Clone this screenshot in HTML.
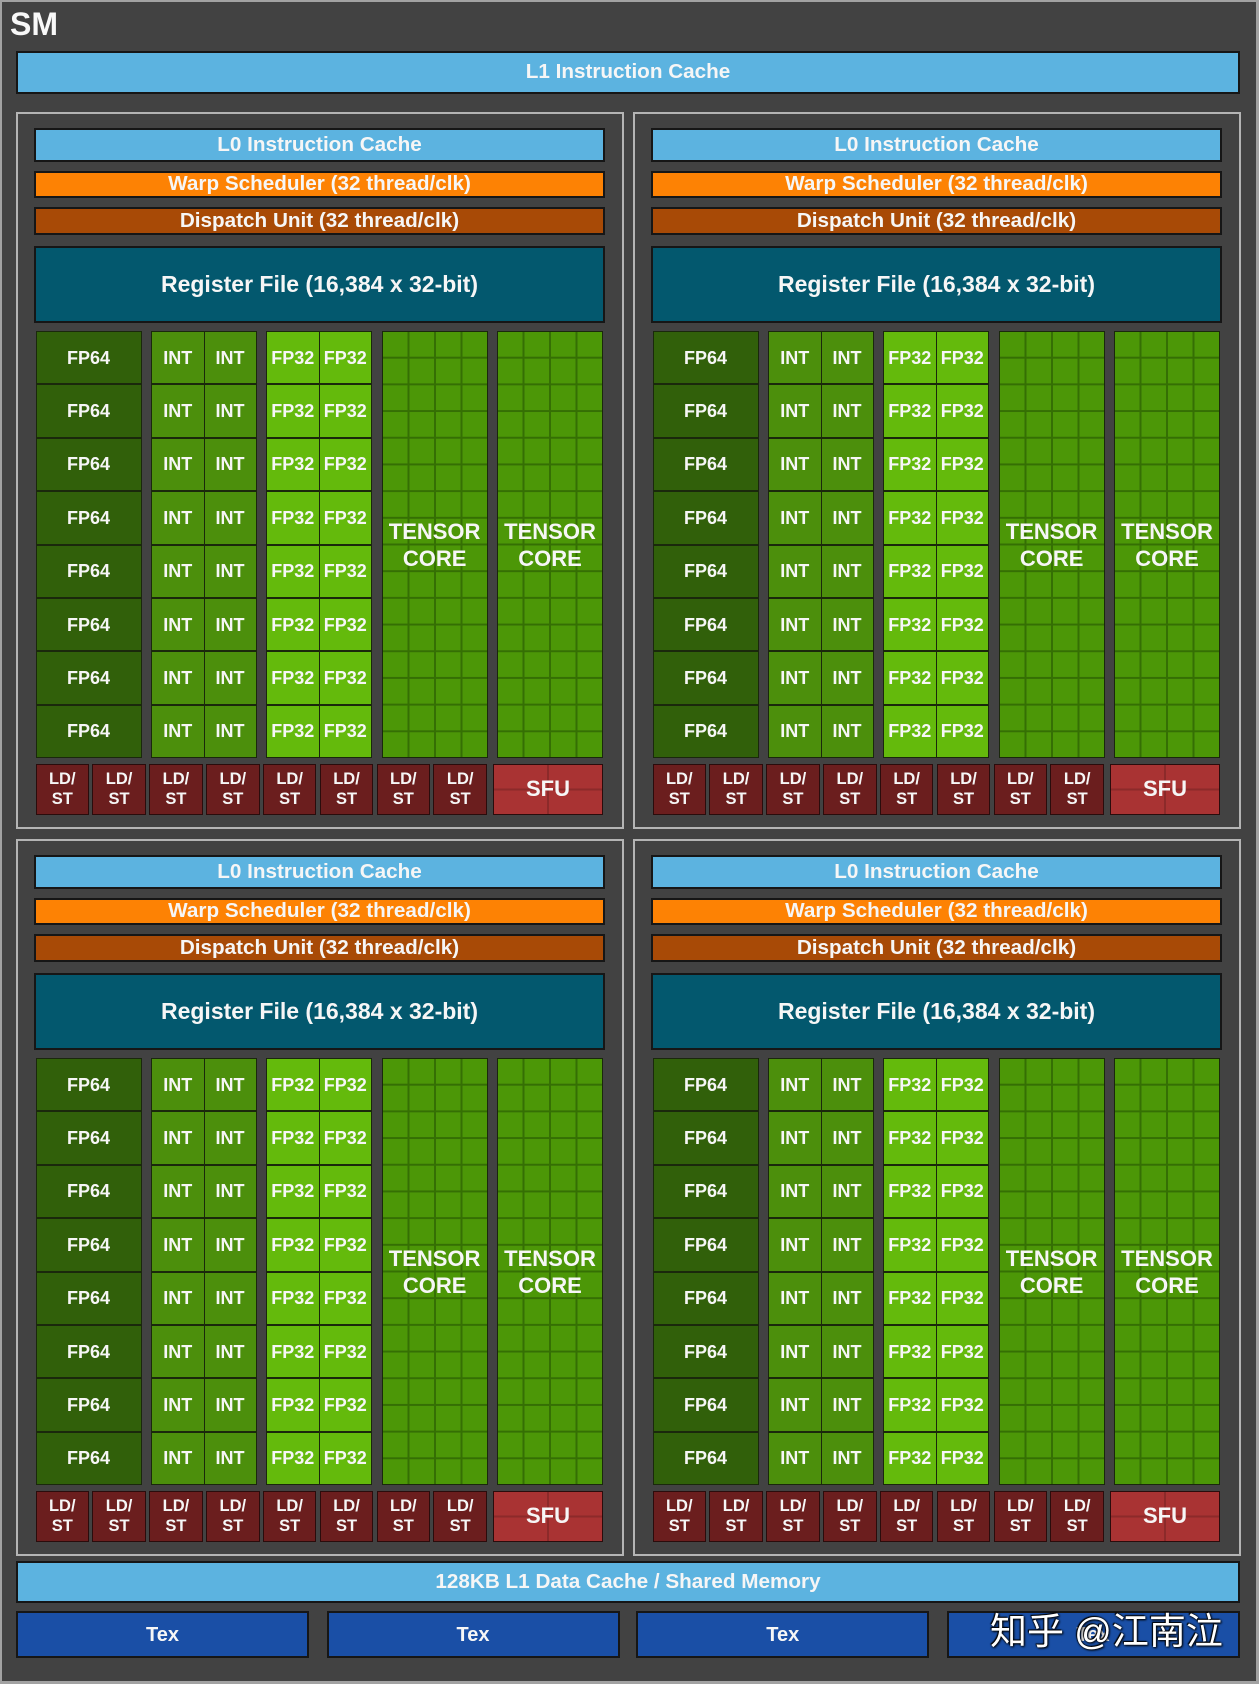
<!DOCTYPE html>
<html><head><meta charset="utf-8"><style>
html,body{margin:0;padding:0}
body{width:1259px;height:1684px;background:#424242;position:relative;overflow:hidden;font-family:"Liberation Sans",sans-serif}
#sm{position:absolute;left:0;top:0;width:1259px;height:1684px;box-sizing:border-box;border-style:solid;border-color:#a2a2a2;border-width:2px 3px 3px 2px}
.smt{position:absolute;left:10px;top:8px;font:bold 32px/32px "Liberation Sans",sans-serif;color:#f8f8f8}
.big{position:absolute;left:16px;width:1224px;box-sizing:border-box;border:2px solid #161616;background:#5cb3e0;display:flex;align-items:center;justify-content:center;color:#f6f6f6;font:bold 20.7px/1 "Liberation Sans",sans-serif}
.tex{position:absolute;top:1611px;height:47px;width:293px;box-sizing:border-box;border:2px solid #161616;background:#1a4fa6;display:flex;align-items:center;justify-content:center;color:#f6f6f6;font:bold 20px/1 "Liberation Sans",sans-serif}
.q{position:absolute;width:608px;height:717px}
.qb{position:absolute;left:0;top:0;width:608px;height:717px;box-sizing:border-box;border:2px solid #b4b4b4}
.bar{position:absolute;left:18px;width:571px;box-sizing:border-box;border:2px solid #161616;display:flex;align-items:center;justify-content:center;color:#f6f6f6;font:bold 20.7px/1 "Liberation Sans",sans-serif;white-space:nowrap}
.l0{top:16px;height:34px;background:#5cb3e0}
.ws{top:59px;height:27px;background:#fd8204}
.du{top:95px;height:28px;background:#a84a06}
.rf{top:134px;height:77px;background:#03586e;font-size:23px}
.c{position:absolute;height:53.4px;box-sizing:border-box;border:1px solid #1a280c;display:flex;align-items:center;justify-content:center;color:#f6f6f6;font:bold 18px/1 "Liberation Sans",sans-serif;white-space:nowrap}
.f64{left:19.5px;width:106px;background:#31600a}
.i1{left:135px;width:53.5px;background:#4c8f0c}
.i2{left:187.5px;width:53px;background:#4c8f0c}
.p1{left:250px;width:53.5px;background:#64ba0c}
.p2{left:302.5px;width:53.5px;background:#64ba0c}
.r1{top:219px}.r2{top:272.4px}.r3{top:325.8px}.r4{top:379.2px}.r5{top:432.6px}.r6{top:486px}.r7{top:539.4px}.r8{top:592.8px}
.t{position:absolute;top:219px;width:106px;height:427.2px;box-sizing:border-box;border:1px solid #1a280c;background-color:#4c9707;
background-image:linear-gradient(to right,#356f04 2px,transparent 2px),linear-gradient(to bottom,#356f04 2px,transparent 2px);
background-size:26.5px 100%,100% 26.7px;background-position:-2px 0,0 -2px;
display:flex;align-items:center;justify-content:center;text-align:center;color:#f6f6f6;font:bold 22px/27px "Liberation Sans",sans-serif}
.t1{left:365.6px}.t2{left:481px}
.ls{position:absolute;top:652px;width:53.5px;height:50.5px;box-sizing:border-box;border:1px solid #2a0c0c;background:#6b1e1e;display:flex;align-items:center;justify-content:center;text-align:center;color:#f6f6f6;font:bold 16.5px/20px "Liberation Sans",sans-serif}
.a1{left:19.5px}.a2{left:76.35px}.a3{left:133.2px}.a4{left:190.05px}.a5{left:246.9px}.a6{left:303.75px}.a7{left:360.6px}.a8{left:417.45px}
.sfu{left:476.7px;width:110.6px;background-color:#a93333;font-size:22px;
background-image:linear-gradient(to right,transparent calc(50% - 1px),#8c2a2a calc(50% - 1px),#8c2a2a calc(50% + 1px),transparent calc(50% + 1px)),linear-gradient(to bottom,transparent calc(50% - 1px),#8c2a2a calc(50% - 1px),#8c2a2a calc(50% + 1px),transparent calc(50% + 1px))}
.wm{position:absolute;left:990px;top:1613px;height:38px;font:37px/37px "Liberation Sans","Noto Sans CJK SC",sans-serif;color:#ffffff;white-space:pre;text-shadow:0 0 2px #000,1px 1px 2px #000,-1px -1px 1px #000}
</style></head><body>
<div id="sm"></div>
<div class="smt">SM</div>
<div class="big" style="top:51px;height:43px">L1 Instruction Cache</div>

<div class="q" style="left:16px;top:112px">
<div class="qb"></div>
<div class="bar l0">L0 Instruction Cache</div>
<div class="bar ws">Warp Scheduler (32 thread/clk)</div>
<div class="bar du">Dispatch Unit (32 thread/clk)</div>
<div class="bar rf">Register File (16,384 x 32-bit)</div>
<div class="c f64 r1">FP64</div><div class="c i1 r1">INT</div><div class="c i2 r1">INT</div><div class="c p1 r1">FP32</div><div class="c p2 r1">FP32</div>
<div class="c f64 r2">FP64</div><div class="c i1 r2">INT</div><div class="c i2 r2">INT</div><div class="c p1 r2">FP32</div><div class="c p2 r2">FP32</div>
<div class="c f64 r3">FP64</div><div class="c i1 r3">INT</div><div class="c i2 r3">INT</div><div class="c p1 r3">FP32</div><div class="c p2 r3">FP32</div>
<div class="c f64 r4">FP64</div><div class="c i1 r4">INT</div><div class="c i2 r4">INT</div><div class="c p1 r4">FP32</div><div class="c p2 r4">FP32</div>
<div class="c f64 r5">FP64</div><div class="c i1 r5">INT</div><div class="c i2 r5">INT</div><div class="c p1 r5">FP32</div><div class="c p2 r5">FP32</div>
<div class="c f64 r6">FP64</div><div class="c i1 r6">INT</div><div class="c i2 r6">INT</div><div class="c p1 r6">FP32</div><div class="c p2 r6">FP32</div>
<div class="c f64 r7">FP64</div><div class="c i1 r7">INT</div><div class="c i2 r7">INT</div><div class="c p1 r7">FP32</div><div class="c p2 r7">FP32</div>
<div class="c f64 r8">FP64</div><div class="c i1 r8">INT</div><div class="c i2 r8">INT</div><div class="c p1 r8">FP32</div><div class="c p2 r8">FP32</div>
<div class="t t1">TENSOR<br>CORE</div><div class="t t2">TENSOR<br>CORE</div>
<div class="ls a1">LD/<br>ST</div><div class="ls a2">LD/<br>ST</div><div class="ls a3">LD/<br>ST</div><div class="ls a4">LD/<br>ST</div><div class="ls a5">LD/<br>ST</div><div class="ls a6">LD/<br>ST</div><div class="ls a7">LD/<br>ST</div><div class="ls a8">LD/<br>ST</div>
<div class="ls sfu">SFU</div>
</div>

<div class="q" style="left:633px;top:112px">
<div class="qb"></div>
<div class="bar l0">L0 Instruction Cache</div>
<div class="bar ws">Warp Scheduler (32 thread/clk)</div>
<div class="bar du">Dispatch Unit (32 thread/clk)</div>
<div class="bar rf">Register File (16,384 x 32-bit)</div>
<div class="c f64 r1">FP64</div><div class="c i1 r1">INT</div><div class="c i2 r1">INT</div><div class="c p1 r1">FP32</div><div class="c p2 r1">FP32</div>
<div class="c f64 r2">FP64</div><div class="c i1 r2">INT</div><div class="c i2 r2">INT</div><div class="c p1 r2">FP32</div><div class="c p2 r2">FP32</div>
<div class="c f64 r3">FP64</div><div class="c i1 r3">INT</div><div class="c i2 r3">INT</div><div class="c p1 r3">FP32</div><div class="c p2 r3">FP32</div>
<div class="c f64 r4">FP64</div><div class="c i1 r4">INT</div><div class="c i2 r4">INT</div><div class="c p1 r4">FP32</div><div class="c p2 r4">FP32</div>
<div class="c f64 r5">FP64</div><div class="c i1 r5">INT</div><div class="c i2 r5">INT</div><div class="c p1 r5">FP32</div><div class="c p2 r5">FP32</div>
<div class="c f64 r6">FP64</div><div class="c i1 r6">INT</div><div class="c i2 r6">INT</div><div class="c p1 r6">FP32</div><div class="c p2 r6">FP32</div>
<div class="c f64 r7">FP64</div><div class="c i1 r7">INT</div><div class="c i2 r7">INT</div><div class="c p1 r7">FP32</div><div class="c p2 r7">FP32</div>
<div class="c f64 r8">FP64</div><div class="c i1 r8">INT</div><div class="c i2 r8">INT</div><div class="c p1 r8">FP32</div><div class="c p2 r8">FP32</div>
<div class="t t1">TENSOR<br>CORE</div><div class="t t2">TENSOR<br>CORE</div>
<div class="ls a1">LD/<br>ST</div><div class="ls a2">LD/<br>ST</div><div class="ls a3">LD/<br>ST</div><div class="ls a4">LD/<br>ST</div><div class="ls a5">LD/<br>ST</div><div class="ls a6">LD/<br>ST</div><div class="ls a7">LD/<br>ST</div><div class="ls a8">LD/<br>ST</div>
<div class="ls sfu">SFU</div>
</div>

<div class="q" style="left:16px;top:839px">
<div class="qb"></div>
<div class="bar l0">L0 Instruction Cache</div>
<div class="bar ws">Warp Scheduler (32 thread/clk)</div>
<div class="bar du">Dispatch Unit (32 thread/clk)</div>
<div class="bar rf">Register File (16,384 x 32-bit)</div>
<div class="c f64 r1">FP64</div><div class="c i1 r1">INT</div><div class="c i2 r1">INT</div><div class="c p1 r1">FP32</div><div class="c p2 r1">FP32</div>
<div class="c f64 r2">FP64</div><div class="c i1 r2">INT</div><div class="c i2 r2">INT</div><div class="c p1 r2">FP32</div><div class="c p2 r2">FP32</div>
<div class="c f64 r3">FP64</div><div class="c i1 r3">INT</div><div class="c i2 r3">INT</div><div class="c p1 r3">FP32</div><div class="c p2 r3">FP32</div>
<div class="c f64 r4">FP64</div><div class="c i1 r4">INT</div><div class="c i2 r4">INT</div><div class="c p1 r4">FP32</div><div class="c p2 r4">FP32</div>
<div class="c f64 r5">FP64</div><div class="c i1 r5">INT</div><div class="c i2 r5">INT</div><div class="c p1 r5">FP32</div><div class="c p2 r5">FP32</div>
<div class="c f64 r6">FP64</div><div class="c i1 r6">INT</div><div class="c i2 r6">INT</div><div class="c p1 r6">FP32</div><div class="c p2 r6">FP32</div>
<div class="c f64 r7">FP64</div><div class="c i1 r7">INT</div><div class="c i2 r7">INT</div><div class="c p1 r7">FP32</div><div class="c p2 r7">FP32</div>
<div class="c f64 r8">FP64</div><div class="c i1 r8">INT</div><div class="c i2 r8">INT</div><div class="c p1 r8">FP32</div><div class="c p2 r8">FP32</div>
<div class="t t1">TENSOR<br>CORE</div><div class="t t2">TENSOR<br>CORE</div>
<div class="ls a1">LD/<br>ST</div><div class="ls a2">LD/<br>ST</div><div class="ls a3">LD/<br>ST</div><div class="ls a4">LD/<br>ST</div><div class="ls a5">LD/<br>ST</div><div class="ls a6">LD/<br>ST</div><div class="ls a7">LD/<br>ST</div><div class="ls a8">LD/<br>ST</div>
<div class="ls sfu">SFU</div>
</div>

<div class="q" style="left:633px;top:839px">
<div class="qb"></div>
<div class="bar l0">L0 Instruction Cache</div>
<div class="bar ws">Warp Scheduler (32 thread/clk)</div>
<div class="bar du">Dispatch Unit (32 thread/clk)</div>
<div class="bar rf">Register File (16,384 x 32-bit)</div>
<div class="c f64 r1">FP64</div><div class="c i1 r1">INT</div><div class="c i2 r1">INT</div><div class="c p1 r1">FP32</div><div class="c p2 r1">FP32</div>
<div class="c f64 r2">FP64</div><div class="c i1 r2">INT</div><div class="c i2 r2">INT</div><div class="c p1 r2">FP32</div><div class="c p2 r2">FP32</div>
<div class="c f64 r3">FP64</div><div class="c i1 r3">INT</div><div class="c i2 r3">INT</div><div class="c p1 r3">FP32</div><div class="c p2 r3">FP32</div>
<div class="c f64 r4">FP64</div><div class="c i1 r4">INT</div><div class="c i2 r4">INT</div><div class="c p1 r4">FP32</div><div class="c p2 r4">FP32</div>
<div class="c f64 r5">FP64</div><div class="c i1 r5">INT</div><div class="c i2 r5">INT</div><div class="c p1 r5">FP32</div><div class="c p2 r5">FP32</div>
<div class="c f64 r6">FP64</div><div class="c i1 r6">INT</div><div class="c i2 r6">INT</div><div class="c p1 r6">FP32</div><div class="c p2 r6">FP32</div>
<div class="c f64 r7">FP64</div><div class="c i1 r7">INT</div><div class="c i2 r7">INT</div><div class="c p1 r7">FP32</div><div class="c p2 r7">FP32</div>
<div class="c f64 r8">FP64</div><div class="c i1 r8">INT</div><div class="c i2 r8">INT</div><div class="c p1 r8">FP32</div><div class="c p2 r8">FP32</div>
<div class="t t1">TENSOR<br>CORE</div><div class="t t2">TENSOR<br>CORE</div>
<div class="ls a1">LD/<br>ST</div><div class="ls a2">LD/<br>ST</div><div class="ls a3">LD/<br>ST</div><div class="ls a4">LD/<br>ST</div><div class="ls a5">LD/<br>ST</div><div class="ls a6">LD/<br>ST</div><div class="ls a7">LD/<br>ST</div><div class="ls a8">LD/<br>ST</div>
<div class="ls sfu">SFU</div>
</div>

<div class="big" style="top:1561px;height:42px">128KB L1 Data Cache / Shared Memory</div>
<div class="tex" style="left:16px">Tex</div>
<div class="tex" style="left:326.5px">Tex</div>
<div class="tex" style="left:636.3px">Tex</div>
<div class="tex" style="left:946.5px">Tex</div>
<div class="wm">知乎 @江南泣</div>
</body></html>
